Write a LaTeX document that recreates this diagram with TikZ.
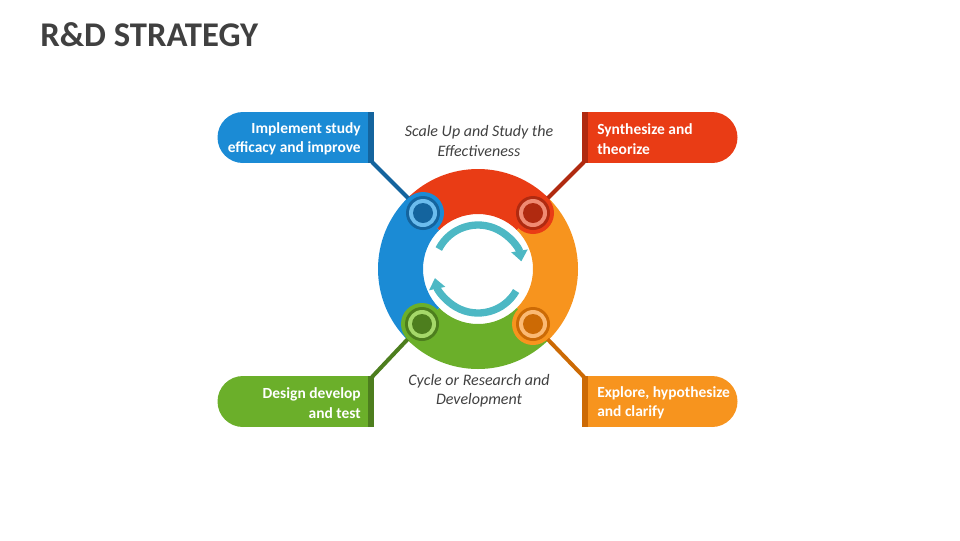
\documentclass[tikz,border=0pt]{standalone}
\usepackage{fontspec}
\setmainfont{Carlito}
\usetikzlibrary{arrows.meta,calc}
\definecolor{cblue}{HTML}{1B8BD5}\definecolor{dblue}{HTML}{14649E}\definecolor{lblue}{HTML}{6BBCEE}
\definecolor{cred}{HTML}{E93C15}\definecolor{dred}{HTML}{B02A10}\definecolor{lred}{HTML}{F08A72}
\definecolor{cgreen}{HTML}{6BAF2A}\definecolor{dgreen}{HTML}{4D7E1E}\definecolor{lgreen}{HTML}{A5D86A}
\definecolor{corange}{HTML}{F7941E}\definecolor{dorange}{HTML}{CC6A05}\definecolor{lorange}{HTML}{FBB973}
\definecolor{cyanarr}{HTML}{4DB8C4}\definecolor{titlec}{HTML}{404040}\definecolor{graytxt}{HTML}{404040}
\tikzset{
 boxtxt/.style={text=white,font=\bfseries\fontsize{11.6}{14.5}\selectfont,inner sep=0},
 captxt/.style={text=graytxt,font=\itshape\fontsize{12}{14.5}\selectfont,align=center,inner sep=0},
 conn/.style={line width=3pt}
}
\newcommand{\marker}[5]{% x,y,disc,dark,light
 \fill[#3] (#1,#2) circle (21);
 \fill[#4] (#1,#2) circle (17);
 \fill[#5] (#1,#2) circle (14);
 \fill[#4] (#1,#2) circle (10);
}
\begin{document}
\begin{tikzpicture}[x=0.75pt,y=-0.75pt]
\useasboundingbox (0,0) rectangle (960,540);
\node[anchor=west,text=titlec,font=\bfseries\fontsize{26}{30}\selectfont,inner sep=0] (title) at (40,35) {R\&D STRATEGY};
\coordinate (c) at (478,269);
% ring
\fill[cred] ($(c)+(225:100)$) arc (225:315:100) -- ($(c)+(315:55)$) arc (315:225:55) -- cycle;
\fill[corange] ($(c)+(315:100)$) arc (315:405:100) -- ($(c)+(405:55)$) arc (405:315:55) -- cycle;
\fill[cgreen] ($(c)+(45:100)$) arc (45:135:100) -- ($(c)+(135:55)$) arc (135:45:55) -- cycle;
\fill[cblue] ($(c)+(135:100)$) arc (135:225:100) -- ($(c)+(225:55)$) arc (225:135:55) -- cycle;
% arrows
\draw[cyanarr,line width=5.5pt,-{Triangle[length=8pt,width=12pt]}] ($(c)+(207:44)$) arc (207:350:44);
\draw[cyanarr,line width=5.5pt,-{Triangle[length=8pt,width=12pt]}] ($(c)+(30:44)$) arc (30:168:44);
% boxes
\fill[cblue] (243,112) rectangle (372,163); \fill[cblue] (243,137.5) circle (25.5);
\fill[dblue] (368,112) rectangle (374,163);
\fill[cred] (585,112) rectangle (712,163); \fill[cred] (712,137.5) circle (25.5);
\fill[dred] (582,112) rectangle (588,163);
\fill[cgreen] (243,376) rectangle (372,427); \fill[cgreen] (243,401.5) circle (25.5);
\fill[dgreen] (368,376) rectangle (374,427);
\fill[corange] (585,376) rectangle (712,427); \fill[corange] (712,401.5) circle (25.5);
\fill[dorange] (582,376) rectangle (588,427);
% connectors
\coordinate (mb) at (423,213); \coordinate (mr) at (533,213);
\coordinate (mg) at (422,324); \coordinate (mo) at (533,324);
\coordinate (eb) at (372,162); \coordinate (er) at (584,162);
\coordinate (eg) at (372,377); \coordinate (eo) at (584,377);
\draw[conn,dblue] (eb) -- (mb);
\draw[conn,dred] (er) -- (mr);
\draw[conn,dgreen] (eg) -- (mg);
\draw[conn,dorange] (eo) -- (mo);
\marker{423}{213}{cblue}{dblue}{lblue}
\marker{533}{213}{cred}{dred}{lred}
\marker{422}{324}{cgreen}{dgreen}{lgreen}
\marker{533}{324}{corange}{dorange}{lorange}
% texts
\node[boxtxt,align=right,anchor=east] (tb) at (361,139) {Implement study\\efficacy and improve};
\node[boxtxt,align=left,anchor=west] (tr) at (597,139) {Synthesize and\\theorize};
\node[boxtxt,align=right,anchor=east] (tg) at (361,403) {Design develop\\and test};
\node[boxtxt,align=left,anchor=west] (to) at (597,403) {Explore, hypothesize\\and clarify};
\node[captxt] (ct) at (479,141) {Scale Up and Study the\\Effectiveness};
\node[captxt] (cb) at (479,391) {Cycle or Research and\\Development};
\end{tikzpicture}
\end{document}
